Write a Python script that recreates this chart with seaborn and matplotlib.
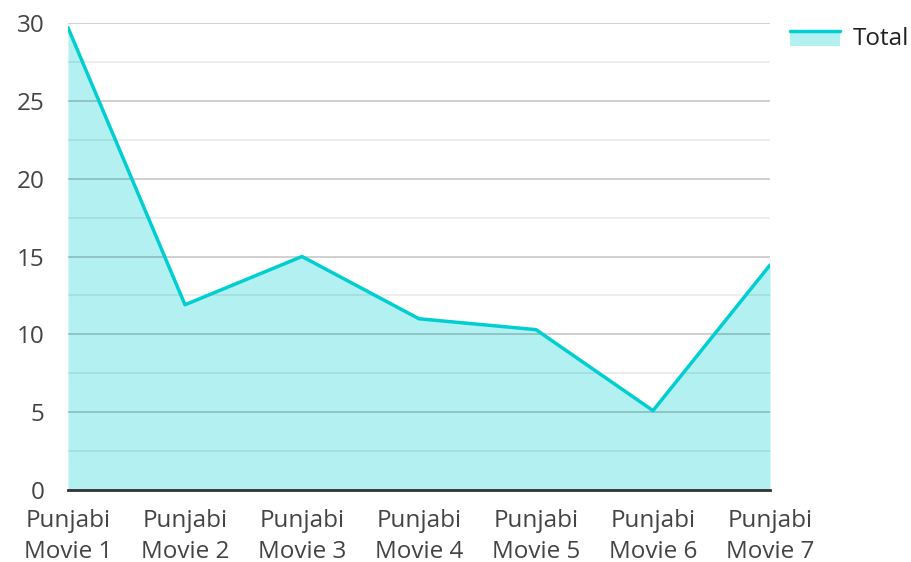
import pandas as pd
import seaborn as sns
import matplotlib.pyplot as plt
from matplotlib.patches import Rectangle
from matplotlib.lines import Line2D
from matplotlib.legend_handler import HandlerBase

movies = ["Punjabi\nMovie 1", "Punjabi\nMovie 2", "Punjabi\nMovie 3", "Punjabi\nMovie 4",
          "Punjabi\nMovie 5", "Punjabi\nMovie 6", "Punjabi\nMovie 7"]
total = [29.7, 11.9, 15.0, 11.0, 10.3, 5.1, 14.45]

line_color = "#00CED1"


class AreaHandler(HandlerBase):
    # filled box with the line along its top edge
    def create_artists(self, legend, orig_handle, xdescent, ydescent, width, height, fontsize, trans):
        y0 = -ydescent + height * 0.05
        top = y0 + height * 0.75
        box = Rectangle((-xdescent, y0), width, top - y0, facecolor=line_color, alpha=0.3,
                        linewidth=0, transform=trans)
        ln = Line2D([-xdescent, -xdescent + width], [top, top], color=line_color,
                    linewidth=2.5, transform=trans)
        return [box, ln]


sns.set_style("white")
plt.rcParams["font.family"] = ["Open Sans", "DejaVu Sans"]

df = pd.DataFrame({"movie": movies, "total": total})
df["pos"] = range(len(df))

fig = plt.figure(figsize=(9.12, 5.62), dpi=100)
ax = fig.add_axes([68 / 912, 1 - 490 / 562, (770 - 68) / 912, (490 - 23) / 562])

ax.fill_between(df["pos"], df["total"], color=line_color, alpha=0.3, linewidth=0, zorder=1)
sns.lineplot(data=df, x="pos", y="total", ax=ax, color=line_color, linewidth=2.5, zorder=3)

ax.set_xlim(0, len(df) - 1)
ax.set_ylim(0, 30)
ax.set_yticks(range(0, 31, 5))
ax.set_yticks([2.5 + 5 * i for i in range(6)], minor=True)
ax.set_xticks(df["pos"])
ax.set_xticklabels(df["movie"])

ax.grid(axis="y", which="major", color="black", alpha=0.2, linewidth=1.3, zorder=2)
ax.grid(axis="y", which="minor", color="black", alpha=0.08, linewidth=1.3, zorder=2)
ax.set_axisbelow(False)

for s in ["left", "right", "top"]:
    ax.spines[s].set_visible(False)
ax.spines["bottom"].set_color("#333333")
ax.spines["bottom"].set_linewidth(2)
ax.spines["bottom"].set_zorder(4)

ax.tick_params(axis="both", which="both", length=0, labelsize=17.5, colors="#444444")
ax.tick_params(axis="y", pad=17)
ax.tick_params(axis="x", pad=14)
for lbl in ax.get_xticklabels():
    lbl.set_linespacing(1.35)
ax.set_xlabel("")
ax.set_ylabel("")

fig.legend(["area"], ["Total"], handler_map={str: AreaHandler()},
           loc="upper right", bbox_to_anchor=(1.013, 0.978), frameon=False, fontsize=17.5,
           handlelength=2.05, handleheight=0.9, handletextpad=0.55, labelcolor="#222222",
           borderaxespad=0.2)

fig.savefig("out.png", dpi=100)
